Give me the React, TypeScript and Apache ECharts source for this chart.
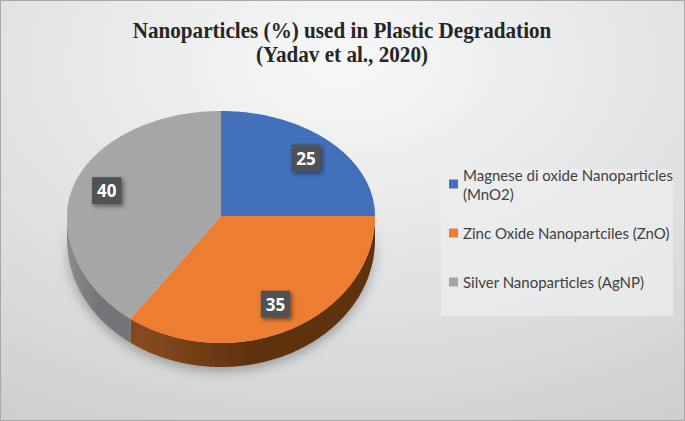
import React, { useEffect, useRef } from 'react';
import * as echarts from 'echarts';

// ---- data ----
const categories = [
  'Magnese di oxide Nanoparticles (MnO2)',
  'Zinc Oxide Nanopartciles (ZnO)',
  'Silver Nanoparticles (AgNP)',
];
const values = [25, 35, 40];
const titleLines = ['Nanoparticles (%) used in Plastic Degradation', '(Yadav et al., 2020)'];

// ---- styles ----
const topColors = ['#4270ba', '#ed7d31', '#a4a6a7'];
const sideColors = [
  ['#2f5597', '#2f5597'],
  ['#8e4d21', '#5d310d'],
  ['#8a8c8e', '#737578'],
];

const CX = 221;
const CY = 216;
const RX = 154;
const RY_UP = 105;
const RY_DOWN = 127;
const DEPTH = 24;
const LABEL_F = 0.78;

const total = values.reduce((a, b) => a + b, 0);

function pt(deg: number, dy = 0): number[] {
  const r = (deg * Math.PI) / 180;
  const c = Math.cos(r);
  const ry = c > 0 ? RY_UP : RY_DOWN;
  return [CX + RX * Math.sin(r), CY - ry * c + dy];
}

function arc(a0: number, a1: number, dy = 0): number[][] {
  const pts: number[][] = [];
  const n = Math.max(2, Math.ceil(Math.abs(a1 - a0)));
  for (let k = 0; k <= n; k++) pts.push(pt(a0 + ((a1 - a0) * k) / n, dy));
  return pts;
}

function renderSlice(params: any, api: any) {
  const i = params.seriesIndex;
  const v = api.value(0);
  let before = 0;
  for (let k = 0; k < i; k++) before += values[k];
  const a0 = (before / total) * 360;
  const a1 = ((before + v) / total) * 360;
  const children: any[] = [];
  const s0 = Math.max(a0, 90);
  const s1 = Math.min(a1, 270);
  if (s1 > s0) {
    const pts = arc(s0, s1).concat(arc(s1, s0, DEPTH));
    children.push({
      type: 'polygon',
      z2: 1,
      shape: { points: pts },
      style: {
        fill: new echarts.graphic.LinearGradient(0, 0, 1, 0, [
          { offset: 0, color: sideColors[i][0] },
          { offset: 0.5, color: sideColors[i][1] },
          { offset: 1, color: sideColors[i][1] },
        ]),
        shadowBlur: 12,
        shadowColor: 'rgba(0,0,0,0.3)',
        shadowOffsetY: 4,
      },
    });
  }
  children.push({
    type: 'polygon',
    z2: 2,
    shape: { points: [[CX, CY]].concat(arc(a0, a1)) },
    style: { fill: topColors[i] },
  });
  const mid = (a0 + a1) / 2;
  const r = (mid * Math.PI) / 180;
  const c = Math.cos(r);
  const ry = c > 0 ? RY_UP : RY_DOWN;
  children.push({
    type: 'text',
    z2: 3,
    x: CX + RX * Math.sin(r) * LABEL_F,
    y: CY - ry * c * LABEL_F,
    style: {
      text: String(v),
      fill: '#ffffff',
      font: 'bold 17px "Open Sans"',
      align: 'center',
      verticalAlign: 'middle',
      lineHeight: 19,
      backgroundColor: '#505254',
      padding: [4, 5, 4, 5],
      shadowBlur: 4,
      shadowColor: 'rgba(0,0,0,0.45)',
      shadowOffsetX: 2,
      shadowOffsetY: 2,
    },
  });
  return { type: 'group', children };
}

const legendIconCenters = [184, 233, 282];

export default function App() {
  const ref = useRef<HTMLDivElement>(null);
  useEffect(() => {
    document.body.style.margin = '0';
    const chart = echarts.init(ref.current!, null, { renderer: 'svg' });
    const legends = categories.map((name, i) => ({
      data: [name],
      orient: 'vertical',
      left: 449,
      top: i === 0 ? legendIconCenters[i] - 28.5 : legendIconCenters[i] - 9.5,
      padding: 0,
      icon: 'rect',
      itemWidth: 9,
      itemHeight: 9,
      selectedMode: false,
      formatter: (n: string) => (n.length > 32 ? n.replace(/ \(/, '\n(') : n),
      textStyle: {
        color: '#404040',
        fontSize: 15,
        fontFamily: 'Lato',
        lineHeight: 19,
        padding: i === 0 ? [19, 0, 0, 0] : 0,
      },
    }));
    chart.setOption({
      animation: false,
      backgroundColor: {
        type: 'radial',
        x: 0.5,
        y: 0.15,
        r: 1.25,
        colorStops: [
          { offset: 0, color: '#f8f8f8' },
          { offset: 0.5, color: '#dcdedf' },
          { offset: 1, color: '#c0c2c4' },
        ],
      },
      legend: legends,
      graphic: [
        {
          type: 'rect',
          z: -1,
          shape: { x: 441, y: 169, width: 232, height: 147 },
          style: { fill: 'rgba(236,237,238,0.75)' },
          silent: true,
        },
        {
          type: 'text',
          x: 342,
          y: 18,
          scaleX: 0.92,
          style: {
            text: titleLines.join('\n'),
            font: 'bold 23px "Liberation Serif"',
            lineHeight: 24,
            fill: '#262626',
            align: 'center',
            verticalAlign: 'top',
          },
          silent: true,
        },
        {
          type: 'rect',
          z: 100,
          shape: { x: 0.5, y: 0.5, width: 684, height: 420 },
          style: { fill: 'none', stroke: '#a6a8aa', lineWidth: 1 },
          silent: true,
        },
      ],
      series: categories.map((name, i) => ({
        type: 'custom',
        name,
        coordinateSystem: 'none',
        itemStyle: { color: topColors[i] },
        renderItem: renderSlice,
        data: [[values[i]]],
      })),
    });
    return () => chart.dispose();
  }, []);
  return <div ref={ref} style={{ width: 685, height: 421 }} />;
}
